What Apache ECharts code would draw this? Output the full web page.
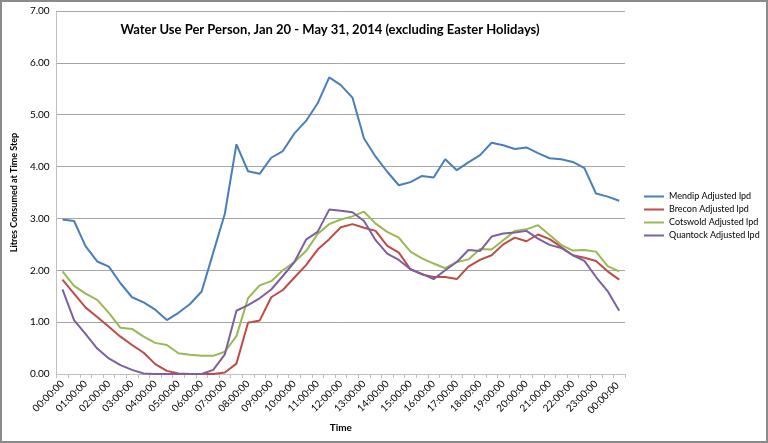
<!DOCTYPE html>
<html>
<head>
<meta charset="utf-8">
<script src="https://cdn.jsdelivr.net/npm/echarts@6/dist/echarts.min.js"></script>
<style>
html,body{margin:0;padding:0;background:#fff;}
#c{width:768px;height:443px;box-sizing:border-box;border:2px solid #8a8a8a;}
</style>
</head>
<body>
<div id="c"></div>
<script>
var times = ["00:00:00","00:30:00","01:00:00","01:30:00","02:00:00","02:30:00","03:00:00","03:30:00","04:00:00","04:30:00",
"05:00:00","05:30:00","06:00:00","06:30:00","07:00:00","07:30:00","08:00:00","08:30:00","09:00:00","09:30:00",
"10:00:00","10:30:00","11:00:00","11:30:00","12:00:00","12:30:00","13:00:00","13:30:00","14:00:00","14:30:00",
"15:00:00","15:30:00","16:00:00","16:30:00","17:00:00","17:30:00","18:00:00","18:30:00","19:00:00","19:30:00",
"20:00:00","20:30:00","21:00:00","21:30:00","22:00:00","22:30:00","23:00:00","23:30:00","00:00:00 "];
var mendip = [2.98,2.95,2.46,2.17,2.07,1.75,1.48,1.38,1.24,1.04,1.18,1.35,1.59,2.34,3.09,4.43,3.91,3.86,4.17,4.30,
4.64,4.88,5.22,5.72,5.57,5.33,4.54,4.19,3.90,3.64,3.70,3.82,3.79,4.14,3.93,4.08,4.22,4.46,4.41,4.34,
4.37,4.26,4.16,4.14,4.09,3.97,3.48,3.42,3.34];
var brecon = [1.82,1.55,1.28,1.10,0.91,0.72,0.56,0.41,0.19,0.06,0.01,0.00,0.00,0.00,0.03,0.20,0.99,1.03,1.48,1.62,
1.86,2.10,2.40,2.60,2.83,2.89,2.82,2.76,2.47,2.34,2.02,1.92,1.87,1.87,1.83,2.07,2.20,2.29,2.50,2.63,
2.56,2.69,2.60,2.45,2.29,2.24,2.18,1.98,1.82];
var cotswold = [1.98,1.70,1.55,1.43,1.18,0.89,0.87,0.72,0.60,0.56,0.40,0.37,0.35,0.35,0.43,0.73,1.46,1.71,1.79,2.00,
2.16,2.37,2.70,2.89,2.98,3.04,3.13,2.90,2.74,2.63,2.36,2.23,2.13,2.04,2.16,2.21,2.41,2.40,2.58,2.76,
2.79,2.87,2.68,2.49,2.38,2.39,2.36,2.08,1.98];
var quantock = [1.63,1.04,0.77,0.49,0.30,0.17,0.08,0.01,0.00,0.00,0.00,0.00,0.00,0.08,0.38,1.22,1.33,1.46,1.63,1.89,
2.16,2.59,2.74,3.17,3.15,3.12,2.95,2.58,2.32,2.20,2.02,1.93,1.83,2.00,2.16,2.39,2.37,2.65,2.71,2.73,
2.76,2.61,2.49,2.43,2.29,2.18,1.87,1.60,1.22];
var seriesNames = ["Mendip Adjusted lpd","Brecon Adjusted lpd","Cotswold Adjusted lpd","Quantock Adjusted lpd"];
var colors = ["#4A7EBB","#BE4B48","#98B954","#7D60A0"];
var yTicks = [0,1,2,3,4,5,6,7];

var FONT = "Lato";
var chart = echarts.init(document.getElementById('c'), null, {renderer:'canvas'});
var dataSets = [mendip, brecon, cotswold, quantock];
chart.setOption({
  animation:false,
  color: colors,
  textStyle:{fontFamily:FONT},
  title:{
    text:"Water Use Per Person, Jan 20 - May 31, 2014 (excluding Easter Holidays)",
    left:323, top:16, textAlign:'center',
    textStyle:{fontFamily:FONT,fontSize:13,fontWeight:'bold',color:'#000'}
  },
  legend:{
    orient:'vertical', left:637, top:185,
    itemWidth:20, itemHeight:2, itemGap:4,
    icon:'rect',
    data: seriesNames,
    textStyle:{fontFamily:FONT,fontSize:9,color:'#000'}
  },
  grid:{left:53, right:141, top:9, bottom:67, containLabel:false},
  xAxis:{
    type:'category', data:times, boundaryGap:true,
    name:'Time', nameLocation:'middle', nameGap:48,
    nameTextStyle:{fontFamily:FONT,fontSize:10,fontWeight:'bold',color:'#000'},
    axisLine:{lineStyle:{color:'#bfbfbf'}},
    axisTick:{show:true, interval:0, length:4, lineStyle:{color:'#bfbfbf'}},
    axisLabel:{interval:1, rotate:45, fontSize:10, color:'#000', fontFamily:FONT, margin:8},
    splitLine:{show:false}
  },
  yAxis:{
    type:'value', min:yTicks[0], max:yTicks[yTicks.length-1], interval:1,
    name:'Litres Consumed at Time Step', nameLocation:'middle', nameGap:28, nameRotate:90,
    nameTextStyle:{fontFamily:FONT,fontSize:9,fontWeight:'bold',color:'#000'},
    axisLine:{show:true,lineStyle:{color:'#bfbfbf'}},
    axisTick:{show:false},
    axisLabel:{formatter:function(v){return v.toFixed(2);}, fontSize:10, color:'#000', fontFamily:FONT, margin:7},
    splitLine:{lineStyle:{color:'#a6a6a6',width:1}}
  },
  series: dataSets.map(function(d,i){
    return {name:seriesNames[i], type:'line', data:d, symbol:'none', lineStyle:{width:2, color:colors[i]}, itemStyle:{color:colors[i]}};
  })
});
</script>
</body>
</html>
